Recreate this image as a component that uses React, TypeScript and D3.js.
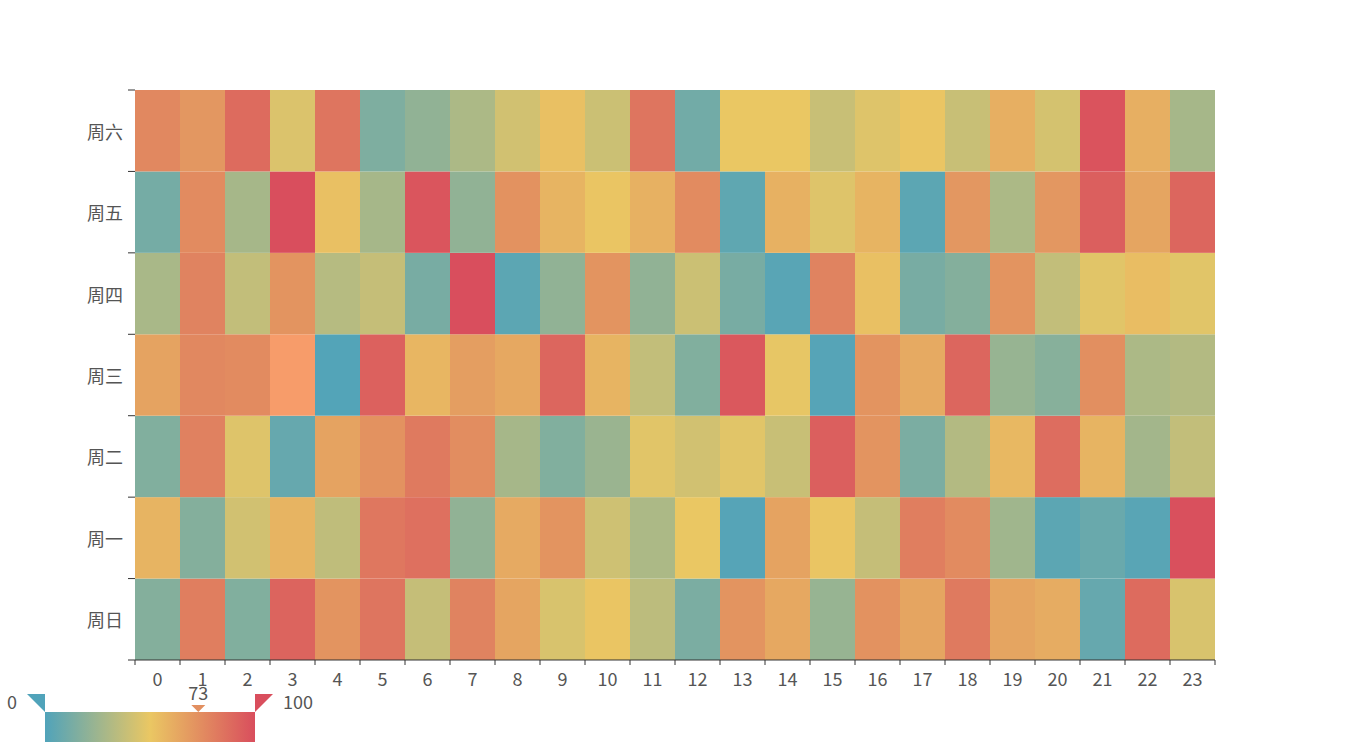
import React from "react";
import * as d3 from "d3";

const hours = ["0","1","2","3","4","5","6","7","8","9","10","11","12","13","14","15","16","17","18","19","20","21","22","23"];
// bottom to top
const days = ["周日","周一","周二","周三","周四","周五","周六"];

const sun = [17,80,16,91,71,84,38,78,64,44,51,35,14,71,63,23,72,64,82,64,61,7,88,44];
const mon = [58,17,42,58,36,83,86,21,62,71,41,30,50,2,65,51,38,80,75,26,4,8,3,99];
const tue = [16,79,46,7,65,72,82,74,28,16,24,47,42,47,39,93,71,14,32,56,87,58,27,37];
const wed = [65,76,75,73,1,92,57,67,63,90,58,37,16,96,49,2,71,62,90,23,18,73,30,32];
const thu = [29,78,37,71,33,38,13,100,4,21,71,21,40,13,3,78,53,13,17,71,37,47,54,47];
const fri = [12,75,28,100,53,28,97,21,72,58,51,59,75,5,59,46,58,4,70,30,70,93,64,90];
const sat = [76,70,88,45,84,15,21,30,42,53,40,84,11,50,50,39,46,51,39,60,43,98,60,28];

const rows = [sun, mon, tue, wed, thu, fri, sat];

const visMin = 0;
const visMax = 100;
const hoverValue = 73;
const hoverCell = { x: 3, y: 3 };

const gridLeft = 135, gridRight = 1215, gridTop = 90, gridBottom = 660;

export default function App() {
  React.useEffect(() => {
    document.body.style.margin = "0";
  }, []);
  const x = d3.scaleBand<string>().domain(hours).range([gridLeft, gridRight]);
  const y = d3.scaleBand<string>().domain(days).range([gridBottom, gridTop]);
  const color = d3
    .scaleLinear<string>()
    .domain([visMin, (visMin + visMax) / 2, visMax])
    .range(["#50a3ba", "#eac763", "#d94e5d"])
    .interpolate(d3.interpolateRgb);

  const cells: { hi: number; di: number; v: number }[] = [];
  rows.forEach((r, di) => r.forEach((v, hi) => cells.push({ hi, di, v })));

  const legX = d3.scaleLinear().domain([visMin, visMax]).range([45, 255]);
  const font = "'Microsoft YaHei', 'Noto Sans CJK SC', sans-serif";
  const stops = [0, 0.25, 0.5, 0.75, 1];

  const yTicks = days.map((d) => (y(d) as number) + y.bandwidth()).concat([gridTop]);
  const xTicks = hours.map((h) => x(h) as number).concat([gridRight]);

  return (
    <svg width={1350} height={750} style={{ display: "block", fontFamily: font }}>
      <defs>
        <linearGradient id="leg" x1="0" x2="1" y1="0" y2="0">
          {stops.map((s) => (
            <stop key={s} offset={s} stopColor={color(visMin + s * (visMax - visMin))} />
          ))}
        </linearGradient>
      </defs>
      {cells.map((c) => {
        const isHover = c.hi === hoverCell.x && c.di === hoverCell.y;
        return (
          <rect
            key={c.hi + "-" + c.di}
            x={x(hours[c.hi])}
            y={y(days[c.di])}
            width={x.bandwidth()}
            height={y.bandwidth()}
            fill={isHover ? "#f79c6a" : color(c.v)}
          />
        );
      })}
      {/* x axis */}
      <line x1={gridLeft} x2={gridRight} y1={gridBottom} y2={gridBottom} stroke="#333" strokeWidth={1} />
      {xTicks.map((t, i) => (
        <line key={"xt" + i} x1={t} x2={t} y1={gridBottom} y2={gridBottom + 5} stroke="#333" />
      ))}
      {hours.map((h) => (
        <text
          key={"xl" + h}
          x={(x(h) as number) + x.bandwidth() / 2}
          y={686}
          textAnchor="middle"
          fontSize={18}
          fill="#555"
        >
          {h}
        </text>
      ))}
      {/* y axis */}
      {yTicks.map((t, i) => (
        <line key={"yt" + i} x1={gridLeft - 7} x2={gridLeft} y1={t} y2={t} stroke="#333" />
      ))}
      {days.map((d) => (
        <text
          key={"yl" + d}
          x={123}
          y={(y(d) as number) + y.bandwidth() / 2}
          textAnchor="end"
          dominantBaseline="central"
          fontSize={18}
          fill="#555"
        >
          {d}
        </text>
      ))}
      {/* visual map */}
      <rect x={legX(visMin)} y={712} width={legX(visMax) - legX(visMin)} height={30} fill="url(#leg)" />
      <path d={`M${legX(visMin) - 18},694 L${legX(visMin)},694 L${legX(visMin)},712 Z`} fill={color(visMin)} />
      <path d={`M${legX(visMax)},694 L${legX(visMax) + 18},694 L${legX(visMax)},712 Z`} fill={color(visMax)} />
      <text x={17} y={701} textAnchor="end" dominantBaseline="central" fontSize={18} fill="#555">
        {visMin}
      </text>
      <text x={283} y={701} textAnchor="start" dominantBaseline="central" fontSize={18} fill="#555">
        {visMax}
      </text>
      <path
        d={`M${legX(hoverValue) - 7},705 L${legX(hoverValue) + 7},705 L${legX(hoverValue)},712 Z`}
        fill={color(hoverValue)}
      />
      <text x={legX(hoverValue)} y={692} textAnchor="middle" dominantBaseline="central" fontSize={18} fill="#555">
        {hoverValue}
      </text>
    </svg>
  );
}
